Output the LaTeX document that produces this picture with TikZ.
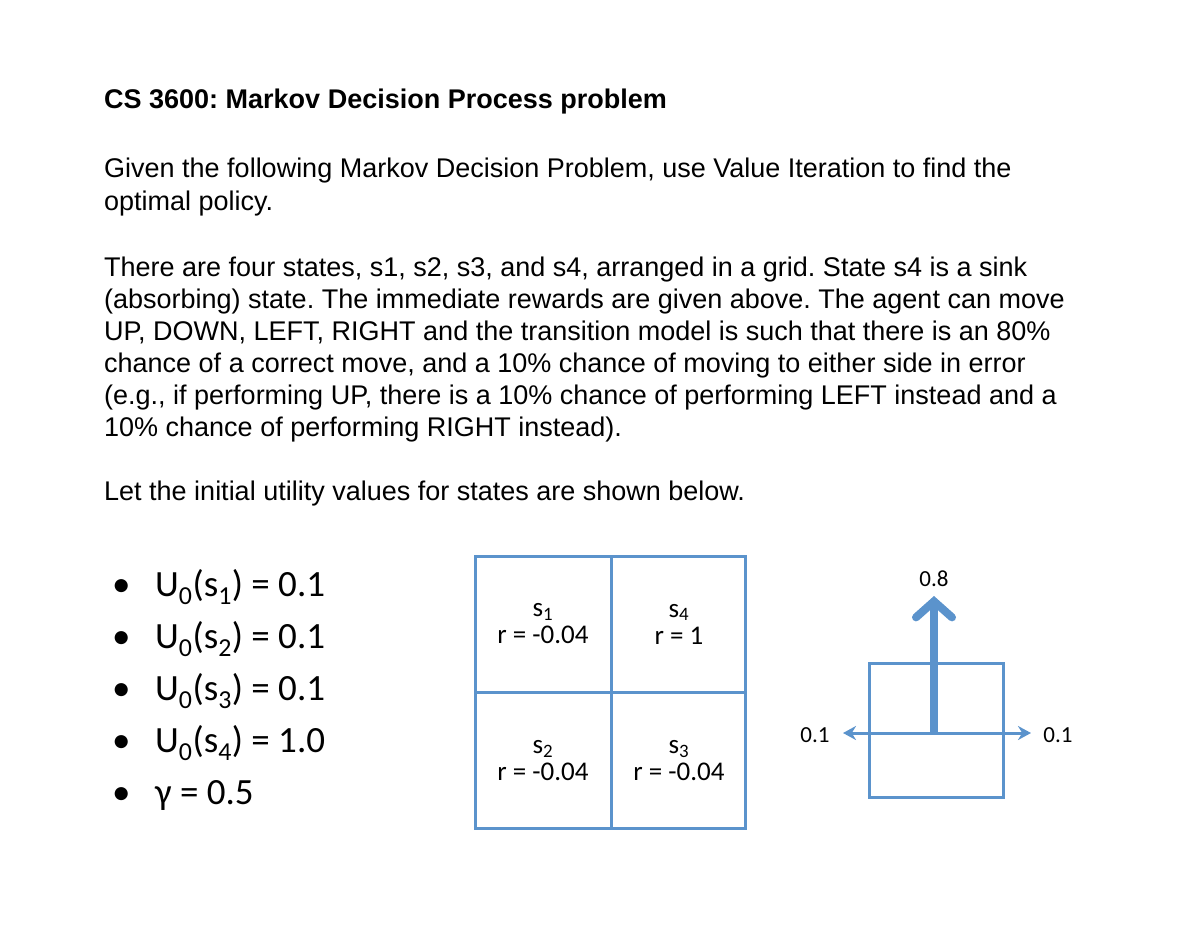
\documentclass[tikz,border=0pt]{standalone}
\usepackage{fontspec}
\setmainfont{Liberation Sans}
\newfontfamily\calfont{Carlito}
\usetikzlibrary{arrows.meta}
\definecolor{bl}{RGB}{91,147,204}
\begin{document}
\frenchspacing
\begin{tikzpicture}[x=1pt,y=-1pt,
  body/.style={anchor=base west,inner sep=0pt,font=\fontsize{27}{32}\selectfont},
  bul/.style={anchor=base west,inner sep=0pt,font=\calfont\fontsize{37}{42}\selectfont},
  cell/.style={inner sep=0pt,font=\calfont\fontsize{27}{31}\selectfont,align=center},
  lab/.style={inner sep=0pt,font=\calfont\fontsize{23}{26}\selectfont},
  gl/.style={draw=bl,line width=3pt}]
\useasboundingbox[fill=white] (0,0) rectangle (1200,927);
\node[body] (t0) at (104,108) {\bfseries CS 3600: Markov Decision Process problem};
\node[body] (t1) at (104,177) {Given the following Markov Decision Problem, use Value Iteration to find the};
\node[body] (t2) at (104,210) {optimal policy.};
\node[body] (t3) at (104,276) {There are four states, s1, s2, s3, and s4, arranged in a grid. State s4 is a sink};
\node[body] (t4) at (104,308) {(absorbing) state. The immediate rewards are given above. The agent can move};
\node[body] (t5) at (104,340) {UP, DOWN, LEFT, RIGHT and the transition model is such that there is an 80\%};
\node[body] (t6) at (104,372) {chance of a correct move, and a 10\% chance of moving to either side in error};
\node[body] (t7) at (104,404) {(e.g., if performing UP, there is a 10\% chance of performing LEFT instead and a};
\node[body] (t8) at (104,436) {10\% chance of performing RIGHT instead).};
\node[body] (t9) at (104,500) {Let the initial utility values for states are shown below.};
\foreach \y/\t [count=\i] in {596/U\textsubscript{0}(s\textsubscript{1}) = 0.1, 648/U\textsubscript{0}(s\textsubscript{2}) = 0.1, 700/U\textsubscript{0}(s\textsubscript{3}) = 0.1, 752/U\textsubscript{0}(s\textsubscript{4}) = 1.0, 804/γ = 0.5}{
  \node[bul] (b\i) at (112,\y) {•};
  \node[bul] (u\i) at (155,\y) {\t};
}
\draw[gl] (475,556) rectangle (745,828);
\draw[gl] (611,556) -- (611,828);
\draw[gl] (475,692) -- (745,692);
\node[cell] (c1) at (543,624) {s\textsubscript{1}\\[-4pt]r = -0.04};
\node[cell] (c4) at (679,624) {s\textsubscript{4}\\[-4pt]r = 1};
\node[cell] (c2) at (543,761) {s\textsubscript{2}\\[-4pt]r = -0.04};
\node[cell] (c3) at (679,761) {s\textsubscript{3}\\[-4pt]r = -0.04};
\draw[gl] (869,663) rectangle (1003,797);
\coordinate (o) at (934,733);
\coordinate (up) at (934,596);
\coordinate (le) at (843,733);
\coordinate (ri) at (1031,733);
\draw[bl,line width=3pt,-{Stealth[length=13pt,width=14pt]}] (o) -- (le);
\draw[bl,line width=3pt,-{Stealth[length=13pt,width=14pt]}] (o) -- (ri);
\draw[bl,line width=8pt,-{Straight Barb[length=16pt,width=36pt,line cap=round]}] (o) -- (up);
\node[lab] (l8) at (934,579) {0.8};
\node[lab] (ll) at (815,735) {0.1};
\node[lab] (lr) at (1058,735) {0.1};
\end{tikzpicture}
\end{document}
